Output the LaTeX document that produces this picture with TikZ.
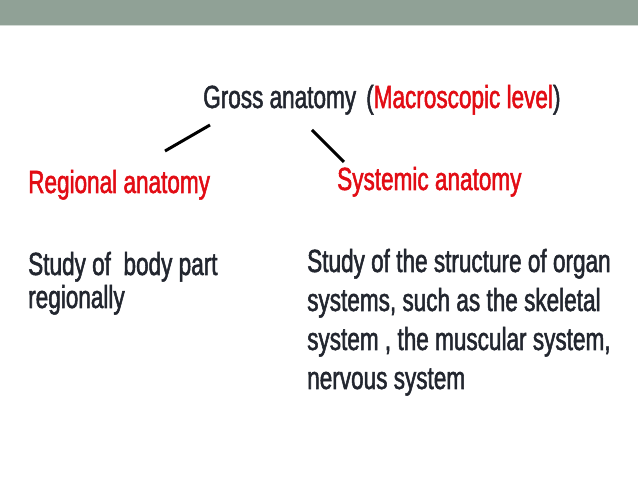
\documentclass[tikz,border=0pt]{standalone}
\usepackage{fontspec}
\setmainfont{Liberation Sans}[FakeStretch=0.705, FakeBold=1.6]
\definecolor{barcol}{RGB}{144,161,150}
\definecolor{txtred}{RGB}{226,12,20}
\definecolor{txtdark}{RGB}{34,38,47}
\tikzset{
    label/.style={anchor=base west, inner sep=0pt, text=txtdark, font=\fontsize{32}{33}\selectfont},
    head/.style={label, text=txtred},
    branch/.style={line width=3pt, black}
}
\begin{document}
\begin{tikzpicture}[x=1pt, y=-1pt]
\useasboundingbox (0,0) rectangle (638,478);
\fill[barcol] (0,0) rectangle (638,25);
\fill[barcol!40] (0,25) rectangle (638,26.5);

\node[label] (gross) at (203,108) {Gross anatomy};
\node[label] (macro) at (366,108) {(\textcolor{txtred}{Macroscopic level})};

\node[head] (regional) at (28,193) {Regional anatomy};
\node[head] (systemic) at (337,190) {Systemic anatomy};

% base anchor sits on the last line
\node[label, align=left] (regtext) at (28,308) {Study of \ body part\\regionally};
\node[label, align=left, font=\fontsize{32}{39}\selectfont] (systext) at (307,389)
    {Study of the structure of organ\\systems, such as the skeletal\\system , the muscular system,\\nervous system};

\coordinate (gl) at (210,125);
\coordinate (rl) at (165,151);
\coordinate (gr) at (312,130);
\coordinate (sr) at (344,162);
\draw[branch] (gl)--(rl);
\draw[branch] (gr)--(sr);
\end{tikzpicture}
\end{document}
